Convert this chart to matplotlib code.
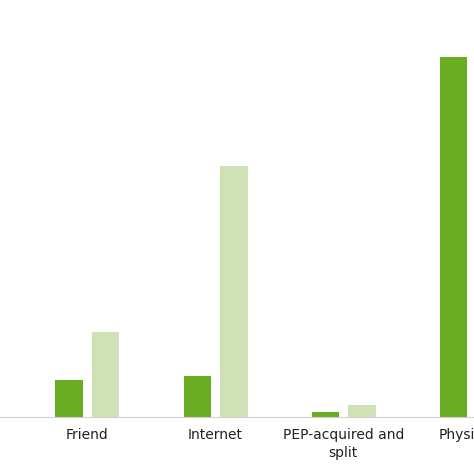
import numpy as np
import matplotlib.pyplot as plt

# data
categories = ["Public pharmacy", "Friend", "Internet", "PEP-acquired and\nsplit", "Physician"]
series_a = [5, 8.8, 9.8, 1.2, 86]
series_b = [12, 20.3, 60, 2.9, 70]

dark = "#6aad23"
light = "#cfe1b5"

fig = plt.figure(figsize=(4.74, 4.74), dpi=100)
ax = fig.add_axes([0, 0.12, 1, 0.88])

x = np.arange(len(categories))
w = 0.215
ax.bar(x - 0.14, series_a, w, color=dark)
ax.bar(x + 0.145, series_b, w, color=light)

ax.set_xticks(x)
ax.set_xticklabels(categories, fontsize=10, color="#222222", linespacing=1.3)
ax.set_xlim(0.32, 4.02)
ax.set_ylim(0, 99.5)
ax.tick_params(axis="x", length=0, pad=8)
ax.set_yticks([])
for s in ["top", "right", "left"]:
    ax.spines[s].set_visible(False)
ax.spines["bottom"].set_color("#d0d0d0")

fig.savefig("out.png", dpi=100)
